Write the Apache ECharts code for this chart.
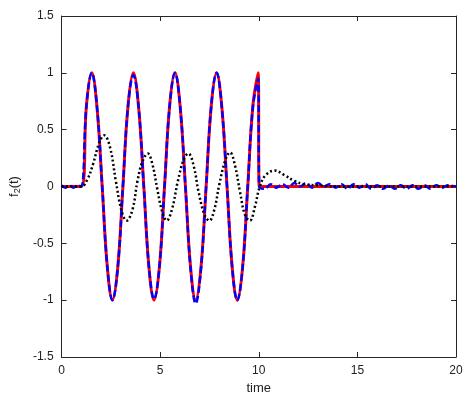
<!DOCTYPE html>
<html>
<head>
<meta charset="utf-8">
<script src="https://cdn.jsdelivr.net/npm/echarts@6/dist/echarts.min.js"></script>
<style>html,body{margin:0;background:#fff}#main{width:474px;height:405px}</style>
</head>
<body>
<div id="main"></div>
<script>
var sineT = [1.00,1.26,1.53,1.79,2.06,2.32,2.58,2.85,3.11,3.37,3.64,3.90,4.17,4.43,4.69,4.96,5.22,5.48,5.75,6.01,6.28,6.54,6.80,7.07,7.33,7.59,7.86,8.12,8.39,8.65,8.91,9.18,9.44,9.70,9.97];
var redY  = [0,0.71,1,0.71,0,-0.71,-1,-0.71,0,0.71,1,0.71,0,-0.71,-1,-0.71,0,0.71,1,0.71,0,-0.71,-1,-0.71,0,0.71,1,0.71,0,-0.71,-1,-0.71,0,0.71,1];
var blueY = [0,0.71,1,0.71,0,-0.71,-1,-0.71,0,0.71,0.98,0.71,0,-0.71,-0.99,-0.71,0,0.71,1,0.71,0,-0.72,-1.03,-0.72,0,0.71,1,0.71,0,-0.71,-1,-0.71,0,0.70,0.95];
var blueHead = [[0,0.01],[0.2,-0.01],[0.4,0.01],[0.6,-0.01],[0.8,0.01],[1.0,0]];
var blueTail = [[10.02,0],[10.3,-0.02],[10.6,0.02],[10.9,-0.01],[11.2,0.02],[11.5,-0.01],[11.8,0.03],[12.1,0.0],[12.4,0.03],[12.7,-0.01],[13.0,0.03],[13.3,0.0],[13.6,0.02],[13.9,-0.01],[14.2,0.02],[14.5,-0.02],[14.8,0.02],[15.1,-0.01],[15.4,0.02],[15.7,-0.02],[16.0,0.01],[16.3,-0.02],[16.6,0.01],[16.9,-0.02],[17.2,0.01],[17.5,-0.02],[17.8,0.01],[18.1,-0.02],[18.4,0.01],[18.7,-0.02],[19.0,0.01],[19.3,-0.01],[19.6,0.01],[20,0]];
var blackPts = [[0,0],[1.0,0],[1.3,0.06],[1.6,0.2],[1.9,0.38],[2.16,0.45],[2.45,0.35],[2.75,0.05],[3.05,-0.22],[3.3,-0.30],[3.6,-0.2],[3.85,0.05],[4.1,0.22],[4.37,0.29],[4.6,0.2],[4.85,-0.02],[5.1,-0.22],[5.33,-0.30],[5.6,-0.2],[5.9,0.05],[6.2,0.24],[6.43,0.29],[6.7,0.18],[6.95,-0.05],[7.25,-0.25],[7.49,-0.30],[7.75,-0.2],[8.0,0.02],[8.3,0.23],[8.54,0.30],[8.8,0.18],[9.05,-0.05],[9.3,-0.25],[9.55,-0.30],[9.8,-0.18],[10.05,0.0],[10.35,0.1],[10.8,0.14],[11.3,0.1],[11.8,0.05],[12.3,0.02],[13,0.01],[14,0],[20,0]];

function zip(ts, ys) {
    return ts.map(function (t, i) { return [t, ys[i]]; });
}
var redData = [[0,0]].concat(zip(sineT, redY), [[10.02,0],[20,0]]);
var blueData = blueHead.concat(zip(sineT, blueY), blueTail);

var font = 'Liberation Sans';
var chart = echarts.init(document.getElementById('main'));
var axisCommon = {
    axisLine: {onZero: false, lineStyle: {color: '#262626', width: 1}},
    axisTick: {inside: true, length: 5, lineStyle: {color: '#262626'}},
    splitLine: {show: false}
};
chart.setOption({
    animation: false,
    grid: {left: 58, right: 18, top: 16, bottom: 48},
    xAxis: [
        Object.assign({type: 'value', min: 0, max: 20, interval: 5, name: 'time', nameLocation: 'middle', nameGap: 22,
            nameTextStyle: {fontFamily: font, fontSize: 13, color: '#222'},
            axisLabel: {fontFamily: font, fontSize: 12, color: '#222', margin: 8}}, axisCommon),
        Object.assign({type: 'value', position: 'top', min: 0, max: 20, interval: 5, axisLabel: {show: false}}, axisCommon)
    ],
    yAxis: [
        Object.assign({type: 'value', min: -1.5, max: 1.5, interval: 0.5, name: '{a|f}{b|2}{a|(t)}', nameLocation: 'middle', nameGap: 34,
            nameTextStyle: {rich: {a: {fontFamily: font, fontSize: 13, color: '#222'}, b: {fontFamily: font, fontSize: 9, color: '#222', verticalAlign: 'bottom', padding: [6, 0, 0, 0]}}},
            axisLabel: {fontFamily: font, fontSize: 12, color: '#222', margin: 8}}, axisCommon),
        Object.assign({type: 'value', position: 'right', min: -1.5, max: 1.5, interval: 0.5, axisLabel: {show: false}}, axisCommon)
    ],
    series: [
        {type: 'line', data: redData, symbol: 'none', smooth: 0.4, lineStyle: {color: '#ff0000', width: 3}},
        {type: 'line', data: blueData, symbol: 'none', smooth: 0.4, lineStyle: {color: '#0000ff', width: 2.5, type: [7, 3]}},
        {type: 'line', data: blackPts, symbol: 'none', smooth: 0.4, lineStyle: {color: '#000000', width: 2.5, type: [2, 2.5]}}
    ]
});
</script>
</body>
</html>
